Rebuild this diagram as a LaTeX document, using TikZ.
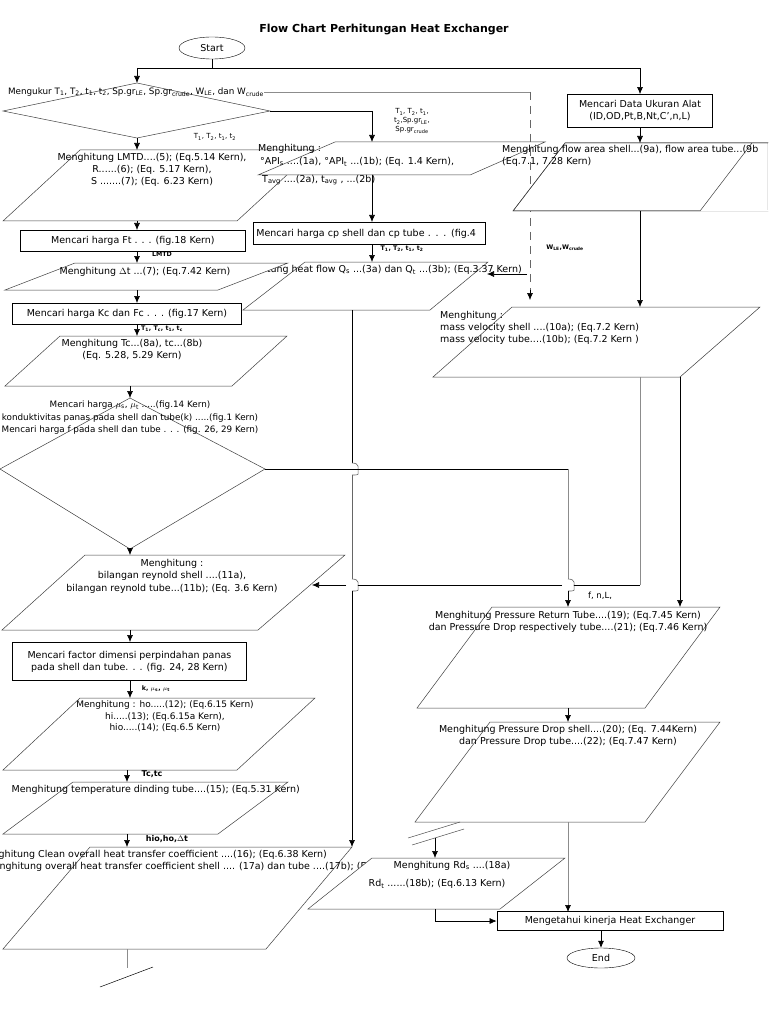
\documentclass[tikz,border=0pt]{standalone}
\usepackage{fontspec}
\setmainfont{DejaVu Sans}
\usetikzlibrary{arrows.meta,shapes.geometric}
\newcommand{\sbs}[1]{\textsubscript{#1}}
\begin{document}
\begin{tikzpicture}[x=1pt,y=-1pt,
  shp/.style={draw=black!75,fill=white,line width=0.5pt},
  box/.style={draw=black,fill=white,line width=0.8pt},
  ln/.style={draw=black,line width=0.6pt},
  gl/.style={draw=black!45,line width=0.6pt},
  arr/.style={-{Latex[length=7pt,width=6pt]}},
  txt/.style={inner sep=0pt,align=center,font=\fontsize{9.5}{12}\selectfont},
  sm/.style={inner sep=0pt,align=center,font=\fontsize{6.3}{8}\selectfont\bfseries},
  jump/.style={draw=black!60,line width=0.6pt}]
\useasboundingbox (0,0) rectangle (768,1024);
\fill[white] (0,0) rectangle (768,1024);
\node[txt,font=\fontsize{11}{13}\selectfont\bfseries] (title) at (384,30) {Flow Chart Perhitungan Heat Exchanger};
% start
\node[draw,ellipse,minimum width=66pt,minimum height=22pt,inner sep=0pt,txt] (start) at (212,48) {Start};
\coordinate (j0) at (212,68);
\coordinate (jl) at (137,68);
\coordinate (jr) at (640,68);
\draw[ln] (start.south) -- (j0);
\draw[ln] (jl) -- (jr);
% diamond 1
\coordinate (d1t) at (137,83); \coordinate (d1l) at (3,111); \coordinate (d1r) at (270,111); \coordinate (d1b) at (137,138);
\draw[shp] (d1t)--(d1r)--(d1b)--(d1l)--cycle;
\draw[ln,arr] (jl) -- (d1t);
\node[txt,font=\fontsize{8.8}{11}\selectfont] (mengukur) at (136,92) {Mengukur T\sbs{1}, T\sbs{2}, t\sbs{1}, t\sbs{2}, Sp.gr\sbs{LE}, Sp.gr\sbs{crude}, W\sbs{LE}, dan W\sbs{crude}};
\coordinate (g1) at (264,92); \coordinate (g2) at (530,92); \coordinate (g3) at (530,300); \coordinate (g4) at (530,290);
\draw[gl] (g1) -- (g2);
\draw[black!60,line width=0.9pt,dash pattern=on 8pt off 6pt] (g2) -- (g3);
\draw[black,arr,line width=0.6pt] (g4) -- (g3);
% Mencari data
\node[box,txt,minimum width=145pt,minimum height=33pt] (data) at (640,111) {Mencari Data Ukuran Alat\\(ID,OD,Pt,B,Nt,C',n,L)};
\draw[ln,arr] (jr) -- (data.north);
% right branch from diamond
\coordinate (r1) at (372,111); \coordinate (p2t) at (372,142);
\draw[ln] (d1r) -- (r1);
\draw[ln,arr] (r1) -- (p2t);
\node[sm,font=\fontsize{7}{9}\selectfont] (lab1) at (412,121) {T\sbs{1}, T\sbs{2}, t\sbs{1},\\t\sbs{2},Sp.gr\sbs{LE},\\Sp.gr\sbs{crude}};
\node[sm,font=\fontsize{7}{9}\selectfont] (lab2) at (215,137) {T\sbs{1}, T\sbs{2}, t\sbs{1}, t\sbs{2}};
% P1 LMTD
\draw[shp] (80,150)--(314,150)--(237,221)--(3,221)--cycle;
\coordinate (p1t) at (137,150);
\draw[ln,arr] (d1b) -- (p1t);
% P2
\draw[shp] (335,142)--(545,142)--(470,175)--(258,175)--cycle;
% flow area P (over P2)
\draw[shp] (565,143)--(768,143)--(768,211)--(513,211)--cycle;
\draw[white,line width=1pt] (768,143)--(768,211)--(700,211);
\draw[shp,fill=none] (565,143)--(768,143) (565,143)--(513,211)--(700,211)--(752,143);
\node[txt,anchor=north west,align=left] (flow) at (502,145) {Menghitung flow area shell...(9a), flow area tube...(9b\\(Eq.7.1, 7.28 Kern)};
\draw[ln,arr] (data.south) -- (640,143);
\node[txt,anchor=west] (p2a) at (258,149) {Menghitung :};
\node[txt,anchor=west] (p2b) at (260,162) {°API\sbs{s} ....(1a), °API\sbs{t} ...(1b); (Eq. 1.4 Kern),};
\node[txt,anchor=west] (p2c) at (262,180) {T\sbs{avg} ....(2a), t\sbs{avg} , ...(2b)};
\node[txt] (p1txt) at (152,170) {Menghitung LMTD....(5); (Eq.5.14 Kern),\\R......(6); (Eq. 5.17 Kern),\\S .......(7); (Eq. 6.23 Kern)};
% cp box
\node[box,txt,minimum width=232pt,minimum height=22pt,anchor=north west,text width=226pt,align=left] (cp) at (253,222) {Mencari harga cp shell dan cp tube . . . (fig.4};
\coordinate (cpt) at (372,222); \coordinate (cpb) at (372,244);
\draw[ln,arr] (372,175) -- (cpt);
% P3 heat flow
\draw[shp] (305,262)--(488,262)--(430,310)--(243,310)--cycle;
\node[txt,anchor=east] (p3) at (522,270) {Menghitung heat flow Q\sbs{s} ...(3a) dan Q\sbs{t} ...(3b); (Eq.3.37 Kern)};
\draw[ln,arr] (cpb) -- (372,262);
\node[sm] (lab3) at (402,249) {T\sbs{1}, T\sbs{2}, t\sbs{1}, t\sbs{2}};
\draw[black,arr,line width=0.6pt] (527,274) -- (487,274);
\node[sm] (lab4) at (565,248) {W\sbs{LE},W\sbs{crude}};
% left column
\node[box,txt,minimum width=225pt,minimum height=21pt,anchor=north west] (ft) at (20,230) {Mencari harga Ft . . . (fig.18 Kern)};
\draw[ln,arr] (137,221) -- (137,230);
\draw[shp] (75,263)--(288,263)--(218,290)--(5,290)--cycle;
\node[txt] (dt) at (145,272) {Menghitung $\Delta$t ...(7); (Eq.7.42 Kern)};
\draw[ln,arr] (137,251) -- (137,263);
\node[sm] (lmtd) at (162,254) {LMTD};
\node[box,txt,minimum width=229pt,minimum height=21pt,anchor=north west] (kc) at (12,303) {Mencari harga Kc dan Fc . . . (fig.17 Kern)};
\draw[ln,arr] (137,290) -- (137,303);
\draw[shp] (60,336)--(287,336)--(232,386)--(5,386)--cycle;
\node[txt] (tc) at (132,350) {Menghitung Tc...(8a), tc...(8b)\\(Eq. 5.28, 5.29 Kern)};
\draw[ln,arr] (137,324) -- (137,336);
\node[sm] (lab5) at (162,329) {T\sbs{1}, T\sbs{c}, t\sbs{1}, t\sbs{c}};
% diamond 2
\coordinate (d2t) at (130,398); \coordinate (d2l) at (0,469); \coordinate (d2r) at (265,469); \coordinate (d2b) at (130,549);
\draw[shp] (d2t)--(d2r)--(d2b)--(d2l)--cycle;
\draw[ln,arr] (130,386) -- (d2t);
\node[txt,font=\fontsize{8.8}{12.5}\selectfont] (d2txt) at (130,418) {Mencari harga $\mu$\sbs{s}, $\mu$\sbs{t} .....(fig.14 Kern)\\konduktivitas panas pada shell dan tube(k) .....(fig.1 Kern)\\Mencari harga f pada shell dan tube . . . (fig. 26, 29 Kern)};
% reynold
\draw[shp] (85,555)--(345,555)--(258,630)--(2,630)--cycle;
\node[txt,font=\fontsize{9.5}{12.5}\selectfont] (rey) at (172,576) {Menghitung :\\bilangan reynold shell ....(11a),\\bilangan reynold tube...(11b); (Eq. 3.6 Kern)};
\draw[ln,arr] (d2b) -- (130,555);
\node[box,txt,minimum width=234pt,minimum height=38pt,anchor=north west] (fac) at (12,642) {Mencari factor dimensi perpindahan panas\\pada shell dan tube. . . (fig. 24, 28 Kern)};
\draw[ln,arr] (130,630) -- (130,642);
\draw[shp] (80,698)--(315,698)--(237,770)--(3,770)--cycle;
\node[txt,font=\fontsize{9}{11.5}\selectfont] (ho) at (165,717) {Menghitung : ho.....(12); (Eq.6.15 Kern)\\hi.....(13); (Eq.6.15a Kern),\\hio.....(14); (Eq.6.5 Kern)};
\draw[ln,arr] (130,680) -- (130,698);
\node[sm] (lab6) at (156,689) {k, $\mu$\sbs{s}, $\mu$\sbs{t}};
\draw[shp] (73,782)--(288,782)--(218,834)--(3,834)--cycle;
\node[txt,anchor=east] (tw) at (300,790) {Menghitung temperature dinding tube....(15); (Eq.5.31 Kern)};
\draw[ln,arr] (127,770) -- (127,782);
\node[sm,font=\fontsize{8}{9}\selectfont\bfseries] (lab7) at (152,774) {Tc,tc};
% Clean
\draw[shp] (90,847)--(352,847)--(266,949)--(3,949)--cycle;
\node[txt,anchor=east] (cl1) at (327,855) {Menghitung Clean overall heat transfer coefficient ....(16); (Eq.6.38 Kern)};
\node[txt,anchor=east] (cl2) at (425,867) {Menghitung overall heat transfer coefficient shell .... (17a) dan tube ....(17b); (Eq.7.44 Kern)};
\draw[ln,arr] (127,834) -- (127,847);
\node[sm,font=\fontsize{8}{9}\selectfont\bfseries] (lab8) at (167,839) {hio,ho,$\Delta$t};
\draw[gl] (127,949) -- (127,968);
\draw[ln,line width=0.5pt] (100,987) -- (153,967);
% long vertical with jumps
\draw[ln] (352,310) -- (352,463);
\draw[jump] (352,463) .. controls (360,463) and (358,469) .. (358,469) .. controls (358,475) and (360,475) .. (352,475);
\draw[jump] (352,475) -- (352,579);
\draw[jump] (352,579) .. controls (360,579) and (358,585) .. (358,585) .. controls (358,591) and (360,591) .. (352,591);
\draw[ln,arr] (352,591) -- (352,847);
\draw[ln] (d2r) -- (568,469);
\draw[gl] (568,469) -- (568,579);
\draw[jump] (568,579) .. controls (576,579) and (574,585) .. (574,585) .. controls (574,591) and (576,591) .. (568,591);
\draw[ln,arr] (568,591) -- (568,607);
% mass velocity
\draw[shp] (512,307)--(760,307)--(680,377)--(433,377)--cycle;
\node[txt,anchor=north west,align=left] (mass) at (440,311) {Menghitung :\\mass velocity shell ....(10a); (Eq.7.2 Kern)\\mass velocity tube....(10b); (Eq.7.2 Kern )};
\draw[ln,arr] (640,211) -- (640,307);
\draw[gl] (640,377) -- (640,585);
\draw[ln] (640,585) -- (574,585);
\draw[ln] (562,585) -- (358,585);
\draw[ln,arr] (346,585) -- (312,585);
\draw[ln,arr] (680,377) -- (680,607);
\node[txt,font=\fontsize{8.5}{9}\selectfont] (lab9) at (600,596) {f, n,L,};
% pressure
\draw[shp] (492,607)--(720,607)--(645,708)--(417,708)--cycle;
\node[txt] (pr) at (568,622) {Menghitung Pressure Return Tube....(19); (Eq.7.45 Kern)\\dan Pressure Drop respectively tube....(21); (Eq.7.46 Kern)};
\draw[shp] (490,722)--(720,722)--(645,822)--(415,822)--cycle;
\node[txt] (pd) at (568,736) {Menghitung Pressure Drop shell....(20); (Eq. 7.44Kern)\\dan Pressure Drop tube....(22); (Eq.7.47 Kern)};
\draw[ln,arr] (568,708) -- (568,722);
% Rd
\draw[shp] (372,858)--(565,858)--(500,909)--(308,909)--cycle;
\node[txt] (rd1) at (452,866) {Menghitung Rd\sbs{s} ....(18a)};
\node[txt] (rd2) at (437,884) {Rd\sbs{t} ......(18b); (Eq.6.13 Kern)};
\draw[black!70,line width=0.5pt] (408,838) -- (460,822) (412,845) -- (464,829);
\draw[ln,arr] (435,838) -- (435,858);
% final
\node[box,txt,minimum width=226pt,minimum height=19pt] (fin) at (610,921) {Mengetahui kinerja Heat Exchanger};
\draw[gl] (568,822) -- (568,905);
\draw[ln,arr] (568,905) -- (568,912);
\draw[ln] (435,909) -- (435,921);
\draw[ln,arr] (435,921) -- (fin.west);
\node[draw,ellipse,minimum width=68pt,minimum height=20pt,inner sep=0pt,txt] (end) at (601,958) {End};
\draw[ln,arr] (601,931) -- (end.north);
\end{tikzpicture}
\end{document}
